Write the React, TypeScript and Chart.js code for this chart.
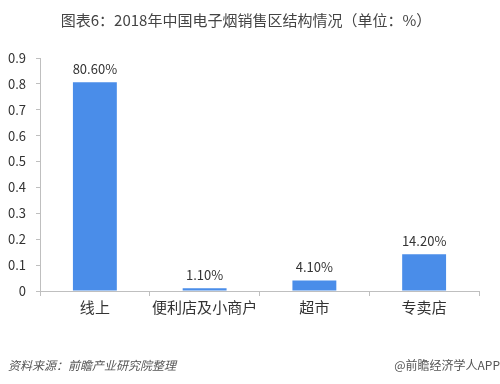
import React, { useEffect, useRef } from "react";
import { Chart, registerables } from "chart.js";

Chart.register(...registerables);

const categories = ["线上", "便利店及小商户", "超市", "专卖店"];
const values = [0.806, 0.011, 0.041, 0.142];
const valueLabels = ["80.60%", "1.10%", "4.10%", "14.20%"];
const yTicks = [0, 0.1, 0.2, 0.3, 0.4, 0.5, 0.6, 0.7, 0.8, 0.9];
const titleText = "图表6：2018年中国电子烟销售区结构情况（单位：%）";
const sourceText = "资料来源：前瞻产业研究院整理";
const brandText = "@前瞻经济学人APP";

const FONT = "'Noto Sans CJK SC', 'Noto Sans', sans-serif";

const textPlugin = {
  id: "texts",
  afterDatasetsDraw(chart: any) {
    const ctx = chart.ctx;
    const meta = chart.getDatasetMeta(0);
    ctx.save();
    ctx.fillStyle = "#333333";
    ctx.font = `13px ${FONT}`;
    ctx.textAlign = "center";
    ctx.textBaseline = "bottom";
    meta.data.forEach((bar: any, i: number) => {
      ctx.fillText(valueLabels[i], bar.x, bar.y - 7);
    });
    ctx.restore();
  },
  afterDraw(chart: any) {
    const ctx = chart.ctx;
    ctx.save();
    ctx.fillStyle = "#444444";
    ctx.font = `15px ${FONT}`;
    ctx.textAlign = "center";
    ctx.textBaseline = "middle";
    ctx.fillText(titleText, 246, 20);
    ctx.fillStyle = "#555555";
    ctx.font = `italic 12px ${FONT}`;
    ctx.textAlign = "left";
    ctx.fillText(sourceText, 8, 365);
    ctx.font = `12px ${FONT}`;
    ctx.textAlign = "right";
    ctx.fillText(brandText, 500, 365);
    ctx.restore();
  },
};

export default function App() {
  const ref = useRef<HTMLCanvasElement>(null);
  useEffect(() => {
    if (!ref.current) return;
    const chart = new Chart(ref.current, {
      type: "bar",
      data: {
        labels: categories,
        datasets: [
          {
            data: values,
            backgroundColor: "#4A8DE9",
            categoryPercentage: 1,
            barPercentage: 0.4,
          },
        ],
      },
      options: {
        animation: false,
        responsive: false,
        maintainAspectRatio: false,
        layout: { padding: { left: 8, right: 21, top: 58, bottom: 58 } },
        plugins: {
          legend: { display: false },
          tooltip: { enabled: false },
          title: { display: false },
        },
        scales: {
          x: {
            offset: true,
            grid: {
              offset: true,
              drawOnChartArea: false,
              drawTicks: true,
              tickLength: 5,
              color: "#BFBFBF",
            },
            border: { color: "#BFBFBF" },
            ticks: {
              color: "#333333",
              font: { size: 15, family: FONT },
              padding: 2,
              maxRotation: 0,
              autoSkip: false,
            },
            afterFit: (s: any) => {
              s.height = 35;
            },
          },
          y: {
            min: 0,
            max: 0.9,
            afterBuildTicks: (s: any) => {
              s.ticks = yTicks.map((v) => ({ value: v }));
            },
            grid: {
              drawOnChartArea: false,
              drawTicks: true,
              tickLength: 4,
              color: "#BFBFBF",
            },
            border: { color: "#BFBFBF" },
            ticks: {
              color: "#333333",
              font: { size: 13, family: FONT },
              padding: 10,
              callback: (v: any) => (v === 0 ? "0" : Number(v).toFixed(1)),
            },
            afterFit: (s: any) => {
              s.width = 32;
            },
          },
        },
      },
      plugins: [textPlugin],
    });
    return () => chart.destroy();
  }, []);
  return (
    <div style={{ position: "absolute", left: 0, top: 0, width: 500, height: 384, background: "#fff" }}>
      <canvas ref={ref} width={500} height={384} />
    </div>
  );
}
